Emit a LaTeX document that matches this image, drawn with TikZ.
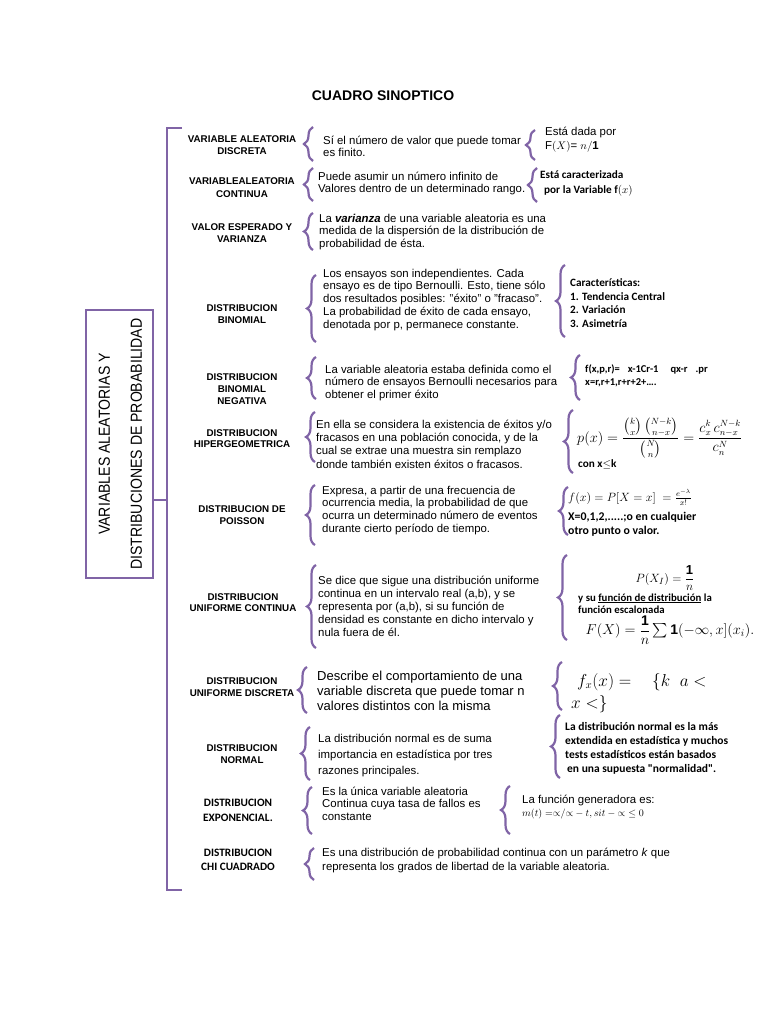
\documentclass[tikz,border=0pt]{standalone}
\usepackage{amsmath}
\usepackage{fontspec}
\setmainfont{Liberation Sans}
\newfontfamily\calfont{Carlito}
\usetikzlibrary{decorations.pathreplacing}
\definecolor{pur}{RGB}{128,100,166}
\begin{document}
\begin{tikzpicture}[x=1pt,y=-1pt,
  lbl/.style={anchor=base, align=center, inner sep=0pt, font=\fontsize{9.8}{12.5}\selectfont\bfseries},
  clbl/.style={anchor=base, align=center, inner sep=0pt, font=\calfont\fontsize{11.3}{15}\selectfont\bfseries},
  desc/.style={anchor=base west, align=left, inner sep=0pt, font=\fontsize{11.4}{12.8}\selectfont},
  cal/.style={anchor=base west, align=left, inner sep=0pt, font=\calfont\fontsize{11.2}{13.4}\selectfont\bfseries},
  mth/.style={inner sep=0pt},
  frame/.style={draw=pur, line width=2.2pt},
  pbr/.style={draw=pur, line width=2.2pt, decorate, decoration={brace, amplitude=#1}},
  pbr/.default=9pt]
\useasboundingbox (0,0) rectangle (768,1024);

% title
\node[anchor=base, inner sep=0pt, font=\fontsize{14}{16}\selectfont\bfseries] (title) at (383,101) {CUADRO SINOPTICO};

% root box
\node[frame, minimum width=67pt, minimum height=268pt, inner sep=0pt] (root) at (119.5,444) {};
\node[rotate=90, inner sep=0pt, font=\fontsize{16}{32}\selectfont] (roottxt) at (root.center)
  {\scalebox{0.88}[1]{\begin{tabular}{@{}c@{}}VARIABLES ALEATORIAS Y\\DISTRIBUCIONES DE PROBABILIDAD\end{tabular}}};

% spine
\coordinate (sTop) at (167,128);
\coordinate (sBot) at (167,890);
\coordinate (tick) at (167,500);
\draw[frame] (182,128) -- (sTop) -- (sBot) -- (182,890);
\draw[frame] (root.east |- tick) -- (tick);

% labels (anchor = baseline of last line)
\node[lbl] (l1) at (242,155) {VARIABLE ALEATORIA\\DISCRETA};
\node[lbl] (l2) at (242,197.5) {VARIABLEALEATORIA\\CONTINUA};
\node[lbl] (l3) at (242,242.5) {VALOR ESPERADO Y\\VARIANZA};
\node[lbl] (l4) at (242,323.5) {DISTRIBUCION\\BINOMIAL};
\node[lbl, font=\fontsize{9.8}{12}\selectfont\bfseries] (l5) at (242,404) {DISTRIBUCION\\BINOMIAL\\NEGATIVA};
\node[lbl, font=\fontsize{9.8}{11.5}\selectfont\bfseries] (l6) at (242,447.5) {DISTRIBUCION\\HIPERGEOMETRICA};
\node[lbl] (l7) at (242,524.5) {DISTRIBUCION DE\\POISSON};
\node[lbl, font=\fontsize{9.8}{11.5}\selectfont\bfseries] (l8) at (243,611.5) {DISTRIBUCION\\UNIFORME CONTINUA};
\node[lbl, font=\fontsize{9.8}{12}\selectfont\bfseries] (l9) at (242,696) {DISTRIBUCION\\UNIFORME DISCRETA};
\node[lbl] (l10) at (242,763.5) {DISTRIBUCION\\NORMAL};
\node[clbl] (l11) at (238,821) {DISTRIBUCION\\EXPONENCIAL.};
\node[clbl, font=\calfont\fontsize{11.3}{14}\selectfont\bfseries] (l12) at (238,870) {DISTRIBUCION\\CHI CUADRADO};

% first column braces
\draw[pbr] (313,161) -- (313,127);
\draw[pbr] (313,201) -- (313,168);
\draw[pbr] (313,250) -- (313,213);
\draw[pbr] (316,342) -- (316,275);
\draw[pbr] (316,399) -- (316,357);
\draw[pbr] (315,462) -- (315,412);
\draw[pbr] (315,545) -- (315,485);
\draw[pbr] (316,648) -- (316,565);
\draw[pbr] (307,713) -- (307,667);
\draw[pbr] (310,780) -- (310,727);
\draw[pbr] (312,834) -- (312,787);
\draw[pbr] (314,880) -- (314,848);

% descriptions (anchor = baseline of last line)
\node[desc] (d1) at (323,157) {Sí el número de valor que puede tomar\\es finito.};
\node[desc] (d2) at (318,193) {Puede asumir un número infinito de\\Valores dentro de un determinado rango.};
\node[desc] (d3) at (319,247.6) {La \textbf{\textit{varianza}} de una variable aleatoria es una\\medida de la dispersión de la distribución de\\probabilidad de ésta.};
\node[desc] (d4) at (323,328.2) {Los ensayos son independientes. Cada\\ensayo es de tipo Bernoulli. Esto, tiene sólo\\dos resultados posibles: "éxito" o "fracaso".\\La probabilidad de éxito de cada ensayo,\\denotada por p, permanece constante.};
\node[desc] (d5) at (325,398.6) {La variable aleatoria estaba definida como el\\número de ensayos Bernoulli necesarios para\\obtener el primer éxito};
\node[desc, font=\fontsize{11.4}{13.3}\selectfont] (d6) at (316,468) {En ella se considera la existencia de éxitos y/o\\fracasos en una población conocida, y de la\\cual se extrae una muestra sin remplazo\\donde también existen éxitos o fracasos.};
\node[desc] (d7) at (322,532.4) {Expresa, a partir de una frecuencia de\\ocurrencia media, la probabilidad de que\\ocurra un determinado número de eventos\\durante cierto período de tiempo.};
\node[desc, font=\fontsize{11.4}{13}\selectfont] (d8) at (318,636) {Se dice que sigue una distribución uniforme\\continua en un intervalo real (a,b), y se\\representa por (a,b), si su función de\\densidad es constante en dicho intervalo y\\nula fuera de él.};
\node[desc, font=\fontsize{13}{15}\selectfont] (d9) at (317,710) {Describe el comportamiento de una\\variable discreta que puede tomar n\\valores distintos con la misma};
\node[desc, font=\fontsize{11.4}{16}\selectfont] (d10) at (318,774) {La distribución normal es de suma\\importancia en estadística por tres\\razones principales.};
\node[desc, font=\fontsize{11.4}{12.5}\selectfont] (d11) at (322,820) {Es la única variable aleatoria\\Continua cuya tasa de fallos es\\constante};
\node[desc, font=\fontsize{11.4}{14}\selectfont] (d12) at (322,870) {Es una distribución de probabilidad continua con un parámetro \textit{k} que\\representa los grados de libertad de la variable aleatoria.};

% second column braces
\draw[pbr] (535,160) -- (535,130);
\draw[pbr] (537,202) -- (537,168);
\draw[pbr] (565,337) -- (565,265);
\draw[pbr] (580,400) -- (580,355);
\draw[pbr] (573,473) -- (573,410);
\draw[pbr] (568,535) -- (568,487);
\draw[pbr] (567,640) -- (567,555);
\draw[pbr] (562,710) -- (562,662);
\draw[pbr] (560,778) -- (560,715);
\draw[pbr] (510,834) -- (510,786);

% second column contents
\node[desc, font=\fontsize{11.4}{14}\selectfont] (e1) at (545,150) {Está dada por\\F$(X)$= $n/\mathbf{1}$};
\node[cal, font=\calfont\fontsize{11.2}{15}\selectfont\bfseries] (e2) at (540,194) {Está caracterizada\\\hspace*{4pt}por la Variable f$(x)$};
\node[cal] (e4) at (570,327) {Características:\\1. Tendencia Central\\2. Variación\\3. Asimetría};
\node[cal, font=\calfont\fontsize{10.5}{13}\selectfont\bfseries] (e5) at (585,385) {f(x,p,r)=\hspace{8pt}x-1Cr-1\hspace{12pt}qx-r\hspace{8pt}.pr\\x=r,r+1,r+r+2+\dots.};
\node[mth, anchor=west, font=\fontsize{13.5}{16}\selectfont] (f6) at (577,438) {$p(x)=\dfrac{\tbinom{k}{x}\,\tbinom{N-k}{n-x}}{\tbinom{N}{n}}=\dfrac{c^{k}_{x}\,c^{N-k}_{n-x}}{c^{N}_{n}}$};
\node[cal] (e6) at (578,467) {con x$\leq$k};
\node[mth, anchor=base west, font=\fontsize{12}{14}\selectfont] (f7) at (568,501) {$f(x)=P[X=x]\;=\frac{e^{-\lambda}}{x!}$};
\node[cal, font=\calfont\fontsize{11.8}{14.5}\selectfont\bfseries] (e7) at (568,534.5) {X=0,1,2,.....;o en cualquier\\otro punto o valor.};
\node[mth, font=\fontsize{13}{15}\selectfont] (f8a) at (665,578) {$P(X_I)=\dfrac{\mathbf{1}}{n}$};
\node[cal, font=\calfont\fontsize{10.8}{12.5}\selectfont\bfseries] (e8) at (578,613.5) {y su \underline{función de distribución} la\\función escalonada};
\node[mth, font=\fontsize{14}{16}\selectfont] (f8b) at (670,630) {$F(X)=\dfrac{\mathbf{1}}{n}\sum\mathbf{1}(-\infty,x](x_i).$};
\node[mth, anchor=base west, align=left, font=\fontsize{16}{22}\selectfont] (f9) at (571,708) {\hspace*{6pt}$f_x(x)=\quad\{k\;\;a<$\\$x<\}$};
\node[cal, font=\calfont\fontsize{11.5}{13.7}\selectfont\bfseries] (e10) at (565,772) {La distribución normal es la más\\extendida en estadística y muchos\\tests estadísticos están basados\\\hspace*{2pt}en una supuesta "normalidad".};
\node[desc] (e11) at (522,803) {La función generadora es:};
\node[mth, anchor=base west, font=\fontsize{10}{12}\selectfont] (f11) at (522,816) {$m(t)\;{=}{\propto}/{\propto}-t,sit-{\propto}\leq 0$};
\end{tikzpicture}
\end{document}
